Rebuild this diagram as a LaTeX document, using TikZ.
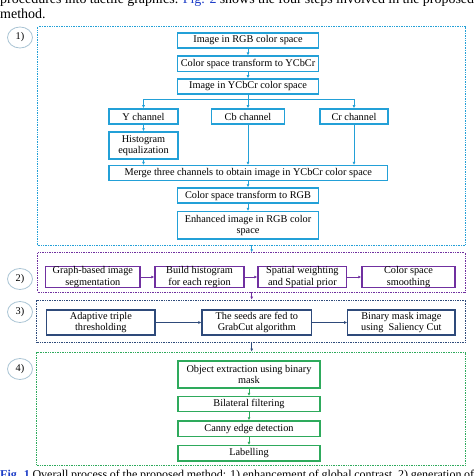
\documentclass[tikz,border=0pt]{standalone}
\usepackage{fontspec}
\setmainfont{Liberation Serif}
\usetikzlibrary{arrows.meta,shapes.geometric}
\definecolor{cA}{HTML}{23A0D7}
\definecolor{cB}{HTML}{7030A0}
\definecolor{cC}{HTML}{2E4A7A}
\definecolor{cD}{HTML}{2EAA5C}
\definecolor{ccirc}{HTML}{A9C4D4}
\definecolor{figblue}{HTML}{1F3FC8}
\tikzset{
  x=1pt, y=-1pt,
  boxbase/.style={draw, line width=1.5pt, inner sep=0pt, align=center,
    font=\fontsize{10.3}{11.5}\selectfont},
  bA/.style={boxbase, draw=cA},
  bB/.style={boxbase, draw=cB},
  bC/.style={boxbase, draw=cC, line width=1.3pt},
  bD/.style={boxbase, draw=cD},
  frame/.style={draw, line width=0.9pt, dash pattern=on 0.8pt off 0.9pt, inner sep=0pt},
  circ/.style={draw=ccirc, line width=0.8pt, ellipse, inner sep=0pt,
    minimum width=25pt, minimum height=21pt, font=\fontsize{10.3}{11.5}\selectfont},
  arr/.style={-{Latex[length=3pt,width=3pt]}, line width=0.8pt},
}
\begin{document}
\begin{tikzpicture}
\useasboundingbox (0,0) rectangle (474,476);
\clip (0,0) rectangle (474,476);
\fill[white] (0,0) rectangle (474,476);

% surrounding text of the page
\node[anchor=base west, inner sep=0pt, font=\fontsize{14}{16}\selectfont] (toptext) at (0,4)
  {\makebox[474pt][s]{procedures into tactile graphics. \textcolor{figblue}{Fig. 2} shows the four steps involved in the proposed}};
\node[anchor=base west, inner sep=0pt, font=\fontsize{14}{16}\selectfont] (method) at (0,19) {method.};
\node[anchor=base west, inner sep=0pt, font=\fontsize{12}{14}\selectfont] (caption) at (0,478.5)
  {\makebox[474pt][s]{\textcolor{figblue}{\textbf{Fig. 1}} Overall process of the proposed method: 1) enhancement of global contrast, 2) generation of}};

% frames
\node[frame, draw=cA, minimum width=428pt, minimum height=218.3pt] (f1) at (251.7,135.85) {};
\node[frame, draw=cB, minimum width=427.3pt, minimum height=39.3pt] (f2) at (251.35,272.35) {};
\node[frame, draw=cC, minimum width=429pt, minimum height=42pt] (f3) at (251.2,321) {};
\node[frame, draw=cD, minimum width=429pt, minimum height=113pt] (f4) at (251.2,408.5) {};

% circle labels
\node[circ] (l1) at (20,37.5) {1)};
\node[circ] (l2) at (20,279) {2)};
\node[circ] (l3) at (20,312) {3)};
\node[circ] (l4) at (20,369) {4)};

% section 1
\node[bA, minimum width=141pt, minimum height=15pt] (a1) at (248,40.5) {Image in RGB color space};
\node[bA, minimum width=141pt, minimum height=15.5pt] (a2) at (248,64) {Color space transform to YCbCr};
\node[bA, minimum width=141pt, minimum height=15pt] (a3) at (248,86.5) {Image in YCbCr color space};
\node[bA, minimum width=69pt, minimum height=15pt] (ay) at (143.5,116.5) {Y channel};
\node[bA, minimum width=73pt, minimum height=15pt] (acb) at (248,116.5) {Cb channel};
\node[bA, minimum width=67.7pt, minimum height=15pt] (acr) at (354,116.5) {Cr channel};
\node[bA, minimum width=69pt, minimum height=27pt] (ah) at (143.5,145.5) {Histogram\\equalization};
\node[bA, minimum width=278.7pt, minimum height=15pt] (am) at (248.35,173.2) {Merge three channels to obtain image in YCbCr color space};
\node[bA, minimum width=141pt, minimum height=15pt] (a4) at (248,195.5) {Color space transform to RGB};
\node[bA, minimum width=141pt, minimum height=27.3pt] (a5) at (248,225.35) {Enhanced image in RGB color\\space};

\coordinate (br) at (0,99.3);
\begin{scope}[cA]
\draw[arr] (a1) -- (a2);
\draw[arr] (a2) -- (a3);
\draw[arr] (a3) -- (acb);
\draw[line width=0.8pt] (ay.north |- br) -- (acr.north |- br);
\draw[arr] (ay.north |- br) -- (ay.north);
\draw[arr] (acr.north |- br) -- (acr.north);
\draw[arr] (ay) -- (ah);
\draw[arr] (ah.south) -- (ah.south |- am.north);
\draw[arr] (acb.south) -- (acb.south |- am.north);
\draw[arr] (acr.south) -- (acr.south |- am.north);
\draw[arr] (am.south -| a4) -- (a4);
\draw[arr] (a4) -- (a5);
\draw[arr] (f1.south) -- (f1.south |- f2.north);
\end{scope}

% section 2
\node[bB, minimum width=94.3pt, minimum height=19.7pt] (b1) at (92.85,277) {Graph-based image\\segmentation};
\node[bB, minimum width=89pt, minimum height=19.7pt] (b2) at (199.5,277) {Build histogram\\for each region};
\node[bB, minimum width=88.7pt, minimum height=19.7pt] (b3) at (302.35,277) {Spatial weighting\\and Spatial prior};
\node[bB, minimum width=93pt, minimum height=19.7pt] (b4) at (408.5,277) {Color space\\smoothing};
\begin{scope}[cB]
\draw[arr] (b1) -- (b2);
\draw[arr] (b2) -- (b3);
\draw[arr] (b3) -- (b4);
\draw[arr] (f1.south |- f2.south) -- (f1.south |- f3.north);
\end{scope}

% section 3
\node[bC, minimum width=108.3pt, minimum height=25pt] (c1) at (100.85,322.5) {Adaptive triple\\thresholding};
\node[bC, minimum width=109.7pt, minimum height=25pt] (c2) at (256.85,322.5) {The seeds are fed to\\GrabCut algorithm};
\node[bC, minimum width=107.3pt, minimum height=25pt] (c3) at (401.35,322.5) {Binary mask image\\using\ \ Saliency Cut};
\begin{scope}[cC]
\draw[arr] (c1) -- (c2);
\draw[arr] (c2) -- (c3);
\draw[arr] (f1.south |- f3.south) -- (f1.south |- f4.north);
\end{scope}

% section 4
\node[bD, minimum width=142pt, minimum height=27pt] (d1) at (249,374.5) {Object extraction using binary\\mask};
\node[bD, minimum width=142pt, minimum height=15pt] (d2) at (249,404.2) {Bilateral filtering};
\node[bD, minimum width=142pt, minimum height=15.7pt] (d3) at (249,428.85) {Canny edge detection};
\node[bD, minimum width=142pt, minimum height=15.3pt] (d4) at (249,453.35) {Labelling};
\begin{scope}[cD]
\draw[arr] (d1) -- (d2);
\draw[arr] (d2) -- (d3);
\draw[arr] (d3) -- (d4);
\end{scope}
\end{tikzpicture}
\end{document}
